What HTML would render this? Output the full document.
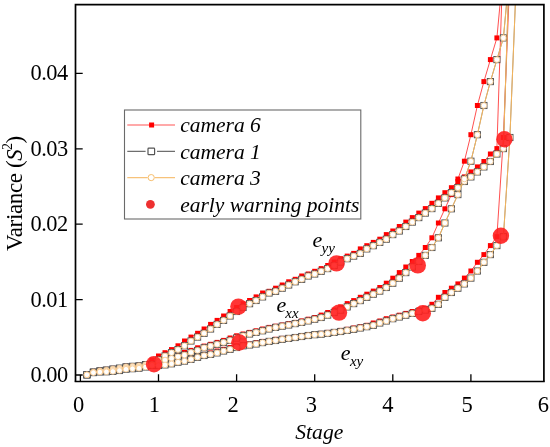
<!DOCTYPE html>
<html><head><meta charset="utf-8"><title>Variance vs Stage</title>
<style>html,body{margin:0;padding:0;background:#fff;}
#wrap{position:relative;width:550px;height:447px;overflow:hidden;}
svg{display:block;position:absolute;left:0;top:0;}
.yl{position:absolute;transform-origin:0 0;transform:rotate(-90deg);font-family:"Liberation Serif","Times New Roman",serif;white-space:nowrap;line-height:1;color:#000;letter-spacing:-0.35px;}
.yl .sup{font-size:0.6em;position:relative;top:-0.7em;margin-left:-0.5px;}
</style>
</head><body><div id="wrap">
<svg width="550" height="447" viewBox="0 0 550 447">
<defs><clipPath id="cp"><rect x="75.5" y="4.7" width="468.4" height="376.6"/></clipPath></defs>
<rect width="550" height="447" fill="#fff"/>
<g clip-path="url(#cp)">
<polyline points="86.9,374.2 93.4,371.4 99.9,370.2 106.4,369.4 112.9,368.4 119.5,367.5 126.0,366.2 132.5,365.7 139.0,365.2 145.5,364.0 152.0,360.0 158.5,356.0 165.0,352.7 171.5,349.6 178.0,345.8 184.5,341.0 191.0,337.1 197.6,333.3 204.1,329.0 210.6,324.4 217.1,320.4 223.6,316.0 230.1,311.5 236.6,307.5 243.1,303.7 249.6,300.5 256.1,296.9 262.6,293.0 269.1,291.3 275.6,288.2 282.2,285.0 288.7,281.8 295.2,279.3 301.7,276.0 308.2,274.0 314.7,271.3 321.2,268.6 327.7,265.5 334.2,262.0 340.7,258.7 347.2,256.1 353.8,253.4 360.3,248.9 366.8,245.7 373.3,242.4 379.8,239.2 386.3,234.6 392.8,231.0 399.3,226.5 405.8,222.1 412.3,217.6 418.8,213.1 425.3,208.6 431.9,203.3 438.4,197.9 444.9,192.7 451.4,187.7 457.9,181.5 464.4,176.9 470.9,171.9 477.4,166.9 483.9,161.5 490.4,154.0 496.9,148.6 503.4,-50.4 509.9,-120.0" fill="none" stroke="#ff5050" stroke-width="1"/>
<polyline points="86.9,374.2 93.4,371.7 99.9,370.8 106.4,370.3 112.9,369.6 119.5,368.7 126.0,367.4 132.5,366.9 139.0,366.4 145.5,365.2 152.0,362.0 158.5,360.0 165.0,358.4 171.5,356.7 178.0,355.1 184.5,352.4 191.0,350.4 197.6,347.8 204.1,346.1 210.6,344.3 217.1,342.4 223.6,340.4 230.1,338.0 236.6,335.8 243.1,334.0 249.6,332.4 256.1,330.8 262.6,329.0 269.1,327.4 275.6,326.2 282.2,325.0 288.7,323.6 295.2,322.4 301.7,320.9 308.2,319.2 314.7,317.5 321.2,315.1 327.7,312.5 334.2,310.1 340.7,306.9 347.2,303.6 353.8,300.6 360.3,297.3 366.8,294.2 373.3,291.1 379.8,287.5 386.3,283.2 392.8,278.2 399.3,272.6 405.8,267.0 412.3,261.5 418.8,255.4 425.3,247.5 431.9,237.8 438.4,223.0 444.9,208.8 451.4,194.6 457.9,179.0 464.4,161.2 470.9,134.7 477.4,105.5 483.9,81.6 490.4,59.6 496.9,37.9 503.4,-31.8 509.9,-100.0" fill="none" stroke="#ff5050" stroke-width="1"/>
<polyline points="86.9,374.2 93.4,372.0 99.9,371.4 106.4,371.2 112.9,370.8 119.5,369.9 126.0,368.6 132.5,368.1 139.0,367.6 145.5,366.4 152.0,365.5 158.5,364.9 165.0,363.8 171.5,362.2 178.0,361.1 184.5,359.4 191.0,357.3 197.6,355.5 204.1,354.4 210.6,352.9 217.1,351.0 223.6,349.3 230.1,347.5 236.6,345.8 243.1,345.0 249.6,344.0 256.1,342.6 262.6,341.4 269.1,340.5 275.6,339.3 282.2,338.4 288.7,337.5 295.2,336.5 301.7,335.5 308.2,334.7 314.7,334.2 321.2,333.4 327.7,332.4 334.2,331.5 340.7,330.4 347.2,329.3 353.8,328.0 360.3,326.7 366.8,325.3 373.3,323.0 379.8,321.0 386.3,318.7 392.8,317.0 399.3,315.2 405.8,313.4 412.3,311.5 418.8,310.0 425.3,308.3 431.9,304.3 438.4,297.3 444.9,292.5 451.4,288.2 457.9,283.9 464.4,278.1 470.9,271.0 477.4,262.3 483.9,254.6 490.4,245.6 496.9,236.7 503.4,137.5 509.9,-24.6 516.5,-100.0" fill="none" stroke="#ff5050" stroke-width="1"/>
<rect x="84.4" y="371.7" width="5" height="5" fill="#ff0000"/>
<rect x="90.9" y="368.9" width="5" height="5" fill="#ff0000"/>
<rect x="97.4" y="367.7" width="5" height="5" fill="#ff0000"/>
<rect x="103.9" y="366.9" width="5" height="5" fill="#ff0000"/>
<rect x="110.4" y="365.9" width="5" height="5" fill="#ff0000"/>
<rect x="117.0" y="365.0" width="5" height="5" fill="#ff0000"/>
<rect x="123.5" y="363.7" width="5" height="5" fill="#ff0000"/>
<rect x="130.0" y="363.2" width="5" height="5" fill="#ff0000"/>
<rect x="136.5" y="362.7" width="5" height="5" fill="#ff0000"/>
<rect x="143.0" y="361.5" width="5" height="5" fill="#ff0000"/>
<rect x="149.5" y="357.5" width="5" height="5" fill="#ff0000"/>
<rect x="156.0" y="353.5" width="5" height="5" fill="#ff0000"/>
<rect x="162.5" y="350.2" width="5" height="5" fill="#ff0000"/>
<rect x="169.0" y="347.1" width="5" height="5" fill="#ff0000"/>
<rect x="175.5" y="343.3" width="5" height="5" fill="#ff0000"/>
<rect x="182.0" y="338.5" width="5" height="5" fill="#ff0000"/>
<rect x="188.5" y="334.6" width="5" height="5" fill="#ff0000"/>
<rect x="195.1" y="330.8" width="5" height="5" fill="#ff0000"/>
<rect x="201.6" y="326.5" width="5" height="5" fill="#ff0000"/>
<rect x="208.1" y="321.9" width="5" height="5" fill="#ff0000"/>
<rect x="214.6" y="317.9" width="5" height="5" fill="#ff0000"/>
<rect x="221.1" y="313.5" width="5" height="5" fill="#ff0000"/>
<rect x="227.6" y="309.0" width="5" height="5" fill="#ff0000"/>
<rect x="234.1" y="305.0" width="5" height="5" fill="#ff0000"/>
<rect x="240.6" y="301.2" width="5" height="5" fill="#ff0000"/>
<rect x="247.1" y="298.0" width="5" height="5" fill="#ff0000"/>
<rect x="253.6" y="294.4" width="5" height="5" fill="#ff0000"/>
<rect x="260.1" y="290.5" width="5" height="5" fill="#ff0000"/>
<rect x="266.6" y="288.8" width="5" height="5" fill="#ff0000"/>
<rect x="273.1" y="285.7" width="5" height="5" fill="#ff0000"/>
<rect x="279.7" y="282.5" width="5" height="5" fill="#ff0000"/>
<rect x="286.2" y="279.3" width="5" height="5" fill="#ff0000"/>
<rect x="292.7" y="276.8" width="5" height="5" fill="#ff0000"/>
<rect x="299.2" y="273.5" width="5" height="5" fill="#ff0000"/>
<rect x="305.7" y="271.5" width="5" height="5" fill="#ff0000"/>
<rect x="312.2" y="268.8" width="5" height="5" fill="#ff0000"/>
<rect x="318.7" y="266.1" width="5" height="5" fill="#ff0000"/>
<rect x="325.2" y="263.0" width="5" height="5" fill="#ff0000"/>
<rect x="331.7" y="259.5" width="5" height="5" fill="#ff0000"/>
<rect x="338.2" y="256.2" width="5" height="5" fill="#ff0000"/>
<rect x="344.7" y="253.6" width="5" height="5" fill="#ff0000"/>
<rect x="351.2" y="250.9" width="5" height="5" fill="#ff0000"/>
<rect x="357.8" y="246.4" width="5" height="5" fill="#ff0000"/>
<rect x="364.3" y="243.2" width="5" height="5" fill="#ff0000"/>
<rect x="370.8" y="239.9" width="5" height="5" fill="#ff0000"/>
<rect x="377.3" y="236.7" width="5" height="5" fill="#ff0000"/>
<rect x="383.8" y="232.1" width="5" height="5" fill="#ff0000"/>
<rect x="390.3" y="228.5" width="5" height="5" fill="#ff0000"/>
<rect x="396.8" y="224.0" width="5" height="5" fill="#ff0000"/>
<rect x="403.3" y="219.6" width="5" height="5" fill="#ff0000"/>
<rect x="409.8" y="215.1" width="5" height="5" fill="#ff0000"/>
<rect x="416.3" y="210.6" width="5" height="5" fill="#ff0000"/>
<rect x="422.8" y="206.1" width="5" height="5" fill="#ff0000"/>
<rect x="429.4" y="200.8" width="5" height="5" fill="#ff0000"/>
<rect x="435.9" y="195.4" width="5" height="5" fill="#ff0000"/>
<rect x="442.4" y="190.2" width="5" height="5" fill="#ff0000"/>
<rect x="448.9" y="185.2" width="5" height="5" fill="#ff0000"/>
<rect x="455.4" y="179.0" width="5" height="5" fill="#ff0000"/>
<rect x="461.9" y="174.4" width="5" height="5" fill="#ff0000"/>
<rect x="468.4" y="169.4" width="5" height="5" fill="#ff0000"/>
<rect x="474.9" y="164.4" width="5" height="5" fill="#ff0000"/>
<rect x="481.4" y="159.0" width="5" height="5" fill="#ff0000"/>
<rect x="487.9" y="151.5" width="5" height="5" fill="#ff0000"/>
<rect x="494.4" y="146.1" width="5" height="5" fill="#ff0000"/>
<rect x="84.4" y="371.7" width="5" height="5" fill="#ff0000"/>
<rect x="90.9" y="369.2" width="5" height="5" fill="#ff0000"/>
<rect x="97.4" y="368.3" width="5" height="5" fill="#ff0000"/>
<rect x="103.9" y="367.8" width="5" height="5" fill="#ff0000"/>
<rect x="110.4" y="367.1" width="5" height="5" fill="#ff0000"/>
<rect x="117.0" y="366.2" width="5" height="5" fill="#ff0000"/>
<rect x="123.5" y="364.9" width="5" height="5" fill="#ff0000"/>
<rect x="130.0" y="364.4" width="5" height="5" fill="#ff0000"/>
<rect x="136.5" y="363.9" width="5" height="5" fill="#ff0000"/>
<rect x="143.0" y="362.7" width="5" height="5" fill="#ff0000"/>
<rect x="149.5" y="359.5" width="5" height="5" fill="#ff0000"/>
<rect x="156.0" y="357.5" width="5" height="5" fill="#ff0000"/>
<rect x="162.5" y="355.9" width="5" height="5" fill="#ff0000"/>
<rect x="169.0" y="354.2" width="5" height="5" fill="#ff0000"/>
<rect x="175.5" y="352.6" width="5" height="5" fill="#ff0000"/>
<rect x="182.0" y="349.9" width="5" height="5" fill="#ff0000"/>
<rect x="188.5" y="347.9" width="5" height="5" fill="#ff0000"/>
<rect x="195.1" y="345.3" width="5" height="5" fill="#ff0000"/>
<rect x="201.6" y="343.6" width="5" height="5" fill="#ff0000"/>
<rect x="208.1" y="341.8" width="5" height="5" fill="#ff0000"/>
<rect x="214.6" y="339.9" width="5" height="5" fill="#ff0000"/>
<rect x="221.1" y="337.9" width="5" height="5" fill="#ff0000"/>
<rect x="227.6" y="335.5" width="5" height="5" fill="#ff0000"/>
<rect x="234.1" y="333.3" width="5" height="5" fill="#ff0000"/>
<rect x="240.6" y="331.5" width="5" height="5" fill="#ff0000"/>
<rect x="247.1" y="329.9" width="5" height="5" fill="#ff0000"/>
<rect x="253.6" y="328.3" width="5" height="5" fill="#ff0000"/>
<rect x="260.1" y="326.5" width="5" height="5" fill="#ff0000"/>
<rect x="266.6" y="324.9" width="5" height="5" fill="#ff0000"/>
<rect x="273.1" y="323.7" width="5" height="5" fill="#ff0000"/>
<rect x="279.7" y="322.5" width="5" height="5" fill="#ff0000"/>
<rect x="286.2" y="321.1" width="5" height="5" fill="#ff0000"/>
<rect x="292.7" y="319.9" width="5" height="5" fill="#ff0000"/>
<rect x="299.2" y="318.4" width="5" height="5" fill="#ff0000"/>
<rect x="305.7" y="316.7" width="5" height="5" fill="#ff0000"/>
<rect x="312.2" y="315.0" width="5" height="5" fill="#ff0000"/>
<rect x="318.7" y="312.6" width="5" height="5" fill="#ff0000"/>
<rect x="325.2" y="310.0" width="5" height="5" fill="#ff0000"/>
<rect x="331.7" y="307.6" width="5" height="5" fill="#ff0000"/>
<rect x="338.2" y="304.4" width="5" height="5" fill="#ff0000"/>
<rect x="344.7" y="301.1" width="5" height="5" fill="#ff0000"/>
<rect x="351.2" y="298.1" width="5" height="5" fill="#ff0000"/>
<rect x="357.8" y="294.8" width="5" height="5" fill="#ff0000"/>
<rect x="364.3" y="291.7" width="5" height="5" fill="#ff0000"/>
<rect x="370.8" y="288.6" width="5" height="5" fill="#ff0000"/>
<rect x="377.3" y="285.0" width="5" height="5" fill="#ff0000"/>
<rect x="383.8" y="280.7" width="5" height="5" fill="#ff0000"/>
<rect x="390.3" y="275.7" width="5" height="5" fill="#ff0000"/>
<rect x="396.8" y="270.1" width="5" height="5" fill="#ff0000"/>
<rect x="403.3" y="264.5" width="5" height="5" fill="#ff0000"/>
<rect x="409.8" y="259.0" width="5" height="5" fill="#ff0000"/>
<rect x="416.3" y="252.9" width="5" height="5" fill="#ff0000"/>
<rect x="422.8" y="245.0" width="5" height="5" fill="#ff0000"/>
<rect x="429.4" y="235.3" width="5" height="5" fill="#ff0000"/>
<rect x="435.9" y="220.5" width="5" height="5" fill="#ff0000"/>
<rect x="442.4" y="206.3" width="5" height="5" fill="#ff0000"/>
<rect x="448.9" y="192.1" width="5" height="5" fill="#ff0000"/>
<rect x="455.4" y="176.5" width="5" height="5" fill="#ff0000"/>
<rect x="461.9" y="158.7" width="5" height="5" fill="#ff0000"/>
<rect x="468.4" y="132.2" width="5" height="5" fill="#ff0000"/>
<rect x="474.9" y="103.0" width="5" height="5" fill="#ff0000"/>
<rect x="481.4" y="79.1" width="5" height="5" fill="#ff0000"/>
<rect x="487.9" y="57.1" width="5" height="5" fill="#ff0000"/>
<rect x="494.4" y="35.4" width="5" height="5" fill="#ff0000"/>
<rect x="84.4" y="371.7" width="5" height="5" fill="#ff0000"/>
<rect x="90.9" y="369.5" width="5" height="5" fill="#ff0000"/>
<rect x="97.4" y="368.9" width="5" height="5" fill="#ff0000"/>
<rect x="103.9" y="368.7" width="5" height="5" fill="#ff0000"/>
<rect x="110.4" y="368.3" width="5" height="5" fill="#ff0000"/>
<rect x="117.0" y="367.4" width="5" height="5" fill="#ff0000"/>
<rect x="123.5" y="366.1" width="5" height="5" fill="#ff0000"/>
<rect x="130.0" y="365.6" width="5" height="5" fill="#ff0000"/>
<rect x="136.5" y="365.1" width="5" height="5" fill="#ff0000"/>
<rect x="143.0" y="363.9" width="5" height="5" fill="#ff0000"/>
<rect x="149.5" y="363.0" width="5" height="5" fill="#ff0000"/>
<rect x="156.0" y="362.4" width="5" height="5" fill="#ff0000"/>
<rect x="162.5" y="361.3" width="5" height="5" fill="#ff0000"/>
<rect x="169.0" y="359.7" width="5" height="5" fill="#ff0000"/>
<rect x="175.5" y="358.6" width="5" height="5" fill="#ff0000"/>
<rect x="182.0" y="356.9" width="5" height="5" fill="#ff0000"/>
<rect x="188.5" y="354.8" width="5" height="5" fill="#ff0000"/>
<rect x="195.1" y="353.0" width="5" height="5" fill="#ff0000"/>
<rect x="201.6" y="351.9" width="5" height="5" fill="#ff0000"/>
<rect x="208.1" y="350.4" width="5" height="5" fill="#ff0000"/>
<rect x="214.6" y="348.5" width="5" height="5" fill="#ff0000"/>
<rect x="221.1" y="346.8" width="5" height="5" fill="#ff0000"/>
<rect x="227.6" y="345.0" width="5" height="5" fill="#ff0000"/>
<rect x="234.1" y="343.3" width="5" height="5" fill="#ff0000"/>
<rect x="240.6" y="342.5" width="5" height="5" fill="#ff0000"/>
<rect x="247.1" y="341.5" width="5" height="5" fill="#ff0000"/>
<rect x="253.6" y="340.1" width="5" height="5" fill="#ff0000"/>
<rect x="260.1" y="338.9" width="5" height="5" fill="#ff0000"/>
<rect x="266.6" y="338.0" width="5" height="5" fill="#ff0000"/>
<rect x="273.1" y="336.8" width="5" height="5" fill="#ff0000"/>
<rect x="279.7" y="335.9" width="5" height="5" fill="#ff0000"/>
<rect x="286.2" y="335.0" width="5" height="5" fill="#ff0000"/>
<rect x="292.7" y="334.0" width="5" height="5" fill="#ff0000"/>
<rect x="299.2" y="333.0" width="5" height="5" fill="#ff0000"/>
<rect x="305.7" y="332.2" width="5" height="5" fill="#ff0000"/>
<rect x="312.2" y="331.7" width="5" height="5" fill="#ff0000"/>
<rect x="318.7" y="330.9" width="5" height="5" fill="#ff0000"/>
<rect x="325.2" y="329.9" width="5" height="5" fill="#ff0000"/>
<rect x="331.7" y="329.0" width="5" height="5" fill="#ff0000"/>
<rect x="338.2" y="327.9" width="5" height="5" fill="#ff0000"/>
<rect x="344.7" y="326.8" width="5" height="5" fill="#ff0000"/>
<rect x="351.2" y="325.5" width="5" height="5" fill="#ff0000"/>
<rect x="357.8" y="324.2" width="5" height="5" fill="#ff0000"/>
<rect x="364.3" y="322.8" width="5" height="5" fill="#ff0000"/>
<rect x="370.8" y="320.5" width="5" height="5" fill="#ff0000"/>
<rect x="377.3" y="318.5" width="5" height="5" fill="#ff0000"/>
<rect x="383.8" y="316.2" width="5" height="5" fill="#ff0000"/>
<rect x="390.3" y="314.5" width="5" height="5" fill="#ff0000"/>
<rect x="396.8" y="312.7" width="5" height="5" fill="#ff0000"/>
<rect x="403.3" y="310.9" width="5" height="5" fill="#ff0000"/>
<rect x="409.8" y="309.0" width="5" height="5" fill="#ff0000"/>
<rect x="416.3" y="307.5" width="5" height="5" fill="#ff0000"/>
<rect x="422.8" y="305.8" width="5" height="5" fill="#ff0000"/>
<rect x="429.4" y="301.8" width="5" height="5" fill="#ff0000"/>
<rect x="435.9" y="294.8" width="5" height="5" fill="#ff0000"/>
<rect x="442.4" y="290.0" width="5" height="5" fill="#ff0000"/>
<rect x="448.9" y="285.7" width="5" height="5" fill="#ff0000"/>
<rect x="455.4" y="281.4" width="5" height="5" fill="#ff0000"/>
<rect x="461.9" y="275.6" width="5" height="5" fill="#ff0000"/>
<rect x="468.4" y="268.5" width="5" height="5" fill="#ff0000"/>
<rect x="474.9" y="259.8" width="5" height="5" fill="#ff0000"/>
<rect x="481.4" y="252.1" width="5" height="5" fill="#ff0000"/>
<rect x="487.9" y="243.1" width="5" height="5" fill="#ff0000"/>
<rect x="494.4" y="234.2" width="5" height="5" fill="#ff0000"/>
<rect x="500.9" y="135.0" width="5" height="5" fill="#ff0000"/>
<polyline points="86.9,374.8 93.4,372.0 99.9,370.8 106.4,370.0 112.9,369.0 119.5,368.1 126.0,366.8 132.5,366.3 139.0,365.8 145.5,364.6 152.0,364.5 158.5,360.0 165.0,356.0 171.5,352.7 178.0,349.6 184.5,345.8 191.0,341.0 197.6,337.1 204.1,333.3 210.6,329.0 217.1,324.4 223.6,320.4 230.1,316.0 236.6,311.5 243.1,307.5 249.6,303.7 256.1,300.5 262.6,296.9 269.1,293.0 275.6,291.3 282.2,288.2 288.7,285.0 295.2,281.8 301.7,279.3 308.2,276.0 314.7,274.0 321.2,271.3 327.7,268.6 334.2,265.5 340.7,262.0 347.2,258.7 353.8,256.1 360.3,253.4 366.8,248.9 373.3,245.7 379.8,242.4 386.3,239.2 392.8,234.6 399.3,231.0 405.8,226.5 412.3,222.1 418.8,217.6 425.3,213.1 431.9,208.6 438.4,203.3 444.9,197.9 451.4,192.7 457.9,187.7 464.4,181.5 470.9,176.9 477.4,171.9 483.9,166.9 490.4,161.5 496.9,154.0 503.4,148.6 509.9,-50.4 516.5,-120.0" fill="none" stroke="#7a7a7a" stroke-width="0.8"/>
<polyline points="86.9,374.8 93.4,372.3 99.9,371.4 106.4,370.9 112.9,370.2 119.5,369.3 126.0,368.0 132.5,367.5 139.0,367.0 145.5,365.8 152.0,365.0 158.5,362.0 165.0,360.0 171.5,358.4 178.0,356.7 184.5,355.1 191.0,352.4 197.6,350.4 204.1,347.8 210.6,346.1 217.1,344.3 223.6,342.4 230.1,340.4 236.6,338.0 243.1,335.8 249.6,334.0 256.1,332.4 262.6,330.8 269.1,329.0 275.6,327.4 282.2,326.2 288.7,325.0 295.2,323.6 301.7,322.4 308.2,320.9 314.7,319.2 321.2,317.5 327.7,315.1 334.2,312.5 340.7,310.1 347.2,306.9 353.8,303.6 360.3,300.6 366.8,297.3 373.3,294.2 379.8,291.1 386.3,287.5 392.8,283.2 399.3,278.2 405.8,272.6 412.3,267.0 418.8,261.5 425.3,255.4 431.9,247.5 438.4,237.8 444.9,223.0 451.4,208.8 457.9,194.6 464.4,179.0 470.9,161.2 477.4,134.7 483.9,105.5 490.4,81.6 496.9,59.6 503.4,37.9 509.9,-31.8 516.5,-100.0" fill="none" stroke="#7a7a7a" stroke-width="0.8"/>
<polyline points="86.9,374.8 93.4,372.6 99.9,372.0 106.4,371.8 112.9,371.4 119.5,370.5 126.0,369.2 132.5,368.7 139.0,368.2 145.5,367.0 152.0,365.3 158.5,365.5 165.0,364.9 171.5,363.8 178.0,362.2 184.5,361.1 191.0,359.4 197.6,357.3 204.1,355.5 210.6,354.4 217.1,352.9 223.6,351.0 230.1,349.3 236.6,347.5 243.1,345.8 249.6,345.0 256.1,344.0 262.6,342.6 269.1,341.4 275.6,340.5 282.2,339.3 288.7,338.4 295.2,337.5 301.7,336.5 308.2,335.5 314.7,334.7 321.2,334.2 327.7,333.4 334.2,332.4 340.7,331.5 347.2,330.4 353.8,329.3 360.3,328.0 366.8,326.7 373.3,325.3 379.8,323.0 386.3,321.0 392.8,318.7 399.3,317.0 405.8,315.2 412.3,313.4 418.8,311.5 425.3,310.0 431.9,308.3 438.4,304.3 444.9,297.3 451.4,292.5 457.9,288.2 464.4,283.9 470.9,278.1 477.4,271.0 483.9,262.3 490.4,254.6 496.9,245.6 503.4,236.7 509.9,137.5 516.5,-24.6 523.0,-100.0" fill="none" stroke="#7a7a7a" stroke-width="0.8"/>
<rect x="83.8" y="371.7" width="6.2" height="6.2" fill="#fff" stroke="#4d4d4d" stroke-width="0.9"/>
<rect x="90.3" y="368.9" width="6.2" height="6.2" fill="#fff" stroke="#4d4d4d" stroke-width="0.9"/>
<rect x="96.8" y="367.7" width="6.2" height="6.2" fill="#fff" stroke="#4d4d4d" stroke-width="0.9"/>
<rect x="103.3" y="366.9" width="6.2" height="6.2" fill="#fff" stroke="#4d4d4d" stroke-width="0.9"/>
<rect x="109.8" y="365.9" width="6.2" height="6.2" fill="#fff" stroke="#4d4d4d" stroke-width="0.9"/>
<rect x="116.4" y="365.0" width="6.2" height="6.2" fill="#fff" stroke="#4d4d4d" stroke-width="0.9"/>
<rect x="122.9" y="363.7" width="6.2" height="6.2" fill="#fff" stroke="#4d4d4d" stroke-width="0.9"/>
<rect x="129.4" y="363.2" width="6.2" height="6.2" fill="#fff" stroke="#4d4d4d" stroke-width="0.9"/>
<rect x="135.9" y="362.7" width="6.2" height="6.2" fill="#fff" stroke="#4d4d4d" stroke-width="0.9"/>
<rect x="142.4" y="361.5" width="6.2" height="6.2" fill="#fff" stroke="#4d4d4d" stroke-width="0.9"/>
<rect x="148.9" y="361.4" width="6.2" height="6.2" fill="#fff" stroke="#4d4d4d" stroke-width="0.9"/>
<rect x="155.4" y="356.9" width="6.2" height="6.2" fill="#fff" stroke="#4d4d4d" stroke-width="0.9"/>
<rect x="161.9" y="352.9" width="6.2" height="6.2" fill="#fff" stroke="#4d4d4d" stroke-width="0.9"/>
<rect x="168.4" y="349.6" width="6.2" height="6.2" fill="#fff" stroke="#4d4d4d" stroke-width="0.9"/>
<rect x="174.9" y="346.5" width="6.2" height="6.2" fill="#fff" stroke="#4d4d4d" stroke-width="0.9"/>
<rect x="181.4" y="342.7" width="6.2" height="6.2" fill="#fff" stroke="#4d4d4d" stroke-width="0.9"/>
<rect x="187.9" y="337.9" width="6.2" height="6.2" fill="#fff" stroke="#4d4d4d" stroke-width="0.9"/>
<rect x="194.5" y="334.0" width="6.2" height="6.2" fill="#fff" stroke="#4d4d4d" stroke-width="0.9"/>
<rect x="201.0" y="330.2" width="6.2" height="6.2" fill="#fff" stroke="#4d4d4d" stroke-width="0.9"/>
<rect x="207.5" y="325.9" width="6.2" height="6.2" fill="#fff" stroke="#4d4d4d" stroke-width="0.9"/>
<rect x="214.0" y="321.3" width="6.2" height="6.2" fill="#fff" stroke="#4d4d4d" stroke-width="0.9"/>
<rect x="220.5" y="317.3" width="6.2" height="6.2" fill="#fff" stroke="#4d4d4d" stroke-width="0.9"/>
<rect x="227.0" y="312.9" width="6.2" height="6.2" fill="#fff" stroke="#4d4d4d" stroke-width="0.9"/>
<rect x="233.5" y="308.4" width="6.2" height="6.2" fill="#fff" stroke="#4d4d4d" stroke-width="0.9"/>
<rect x="240.0" y="304.4" width="6.2" height="6.2" fill="#fff" stroke="#4d4d4d" stroke-width="0.9"/>
<rect x="246.5" y="300.6" width="6.2" height="6.2" fill="#fff" stroke="#4d4d4d" stroke-width="0.9"/>
<rect x="253.0" y="297.4" width="6.2" height="6.2" fill="#fff" stroke="#4d4d4d" stroke-width="0.9"/>
<rect x="259.5" y="293.8" width="6.2" height="6.2" fill="#fff" stroke="#4d4d4d" stroke-width="0.9"/>
<rect x="266.0" y="289.9" width="6.2" height="6.2" fill="#fff" stroke="#4d4d4d" stroke-width="0.9"/>
<rect x="272.5" y="288.2" width="6.2" height="6.2" fill="#fff" stroke="#4d4d4d" stroke-width="0.9"/>
<rect x="279.1" y="285.1" width="6.2" height="6.2" fill="#fff" stroke="#4d4d4d" stroke-width="0.9"/>
<rect x="285.6" y="281.9" width="6.2" height="6.2" fill="#fff" stroke="#4d4d4d" stroke-width="0.9"/>
<rect x="292.1" y="278.7" width="6.2" height="6.2" fill="#fff" stroke="#4d4d4d" stroke-width="0.9"/>
<rect x="298.6" y="276.2" width="6.2" height="6.2" fill="#fff" stroke="#4d4d4d" stroke-width="0.9"/>
<rect x="305.1" y="272.9" width="6.2" height="6.2" fill="#fff" stroke="#4d4d4d" stroke-width="0.9"/>
<rect x="311.6" y="270.9" width="6.2" height="6.2" fill="#fff" stroke="#4d4d4d" stroke-width="0.9"/>
<rect x="318.1" y="268.2" width="6.2" height="6.2" fill="#fff" stroke="#4d4d4d" stroke-width="0.9"/>
<rect x="324.6" y="265.5" width="6.2" height="6.2" fill="#fff" stroke="#4d4d4d" stroke-width="0.9"/>
<rect x="331.1" y="262.4" width="6.2" height="6.2" fill="#fff" stroke="#4d4d4d" stroke-width="0.9"/>
<rect x="337.6" y="258.9" width="6.2" height="6.2" fill="#fff" stroke="#4d4d4d" stroke-width="0.9"/>
<rect x="344.1" y="255.6" width="6.2" height="6.2" fill="#fff" stroke="#4d4d4d" stroke-width="0.9"/>
<rect x="350.6" y="253.0" width="6.2" height="6.2" fill="#fff" stroke="#4d4d4d" stroke-width="0.9"/>
<rect x="357.2" y="250.3" width="6.2" height="6.2" fill="#fff" stroke="#4d4d4d" stroke-width="0.9"/>
<rect x="363.7" y="245.8" width="6.2" height="6.2" fill="#fff" stroke="#4d4d4d" stroke-width="0.9"/>
<rect x="370.2" y="242.6" width="6.2" height="6.2" fill="#fff" stroke="#4d4d4d" stroke-width="0.9"/>
<rect x="376.7" y="239.3" width="6.2" height="6.2" fill="#fff" stroke="#4d4d4d" stroke-width="0.9"/>
<rect x="383.2" y="236.1" width="6.2" height="6.2" fill="#fff" stroke="#4d4d4d" stroke-width="0.9"/>
<rect x="389.7" y="231.5" width="6.2" height="6.2" fill="#fff" stroke="#4d4d4d" stroke-width="0.9"/>
<rect x="396.2" y="227.9" width="6.2" height="6.2" fill="#fff" stroke="#4d4d4d" stroke-width="0.9"/>
<rect x="402.7" y="223.4" width="6.2" height="6.2" fill="#fff" stroke="#4d4d4d" stroke-width="0.9"/>
<rect x="409.2" y="219.0" width="6.2" height="6.2" fill="#fff" stroke="#4d4d4d" stroke-width="0.9"/>
<rect x="415.7" y="214.5" width="6.2" height="6.2" fill="#fff" stroke="#4d4d4d" stroke-width="0.9"/>
<rect x="422.2" y="210.0" width="6.2" height="6.2" fill="#fff" stroke="#4d4d4d" stroke-width="0.9"/>
<rect x="428.8" y="205.5" width="6.2" height="6.2" fill="#fff" stroke="#4d4d4d" stroke-width="0.9"/>
<rect x="435.3" y="200.2" width="6.2" height="6.2" fill="#fff" stroke="#4d4d4d" stroke-width="0.9"/>
<rect x="441.8" y="194.8" width="6.2" height="6.2" fill="#fff" stroke="#4d4d4d" stroke-width="0.9"/>
<rect x="448.3" y="189.6" width="6.2" height="6.2" fill="#fff" stroke="#4d4d4d" stroke-width="0.9"/>
<rect x="454.8" y="184.6" width="6.2" height="6.2" fill="#fff" stroke="#4d4d4d" stroke-width="0.9"/>
<rect x="461.3" y="178.4" width="6.2" height="6.2" fill="#fff" stroke="#4d4d4d" stroke-width="0.9"/>
<rect x="467.8" y="173.8" width="6.2" height="6.2" fill="#fff" stroke="#4d4d4d" stroke-width="0.9"/>
<rect x="474.3" y="168.8" width="6.2" height="6.2" fill="#fff" stroke="#4d4d4d" stroke-width="0.9"/>
<rect x="480.8" y="163.8" width="6.2" height="6.2" fill="#fff" stroke="#4d4d4d" stroke-width="0.9"/>
<rect x="487.3" y="158.4" width="6.2" height="6.2" fill="#fff" stroke="#4d4d4d" stroke-width="0.9"/>
<rect x="493.8" y="150.9" width="6.2" height="6.2" fill="#fff" stroke="#4d4d4d" stroke-width="0.9"/>
<rect x="500.3" y="145.5" width="6.2" height="6.2" fill="#fff" stroke="#4d4d4d" stroke-width="0.9"/>
<rect x="83.8" y="371.7" width="6.2" height="6.2" fill="#fff" stroke="#4d4d4d" stroke-width="0.9"/>
<rect x="90.3" y="369.2" width="6.2" height="6.2" fill="#fff" stroke="#4d4d4d" stroke-width="0.9"/>
<rect x="96.8" y="368.3" width="6.2" height="6.2" fill="#fff" stroke="#4d4d4d" stroke-width="0.9"/>
<rect x="103.3" y="367.8" width="6.2" height="6.2" fill="#fff" stroke="#4d4d4d" stroke-width="0.9"/>
<rect x="109.8" y="367.1" width="6.2" height="6.2" fill="#fff" stroke="#4d4d4d" stroke-width="0.9"/>
<rect x="116.4" y="366.2" width="6.2" height="6.2" fill="#fff" stroke="#4d4d4d" stroke-width="0.9"/>
<rect x="122.9" y="364.9" width="6.2" height="6.2" fill="#fff" stroke="#4d4d4d" stroke-width="0.9"/>
<rect x="129.4" y="364.4" width="6.2" height="6.2" fill="#fff" stroke="#4d4d4d" stroke-width="0.9"/>
<rect x="135.9" y="363.9" width="6.2" height="6.2" fill="#fff" stroke="#4d4d4d" stroke-width="0.9"/>
<rect x="142.4" y="362.7" width="6.2" height="6.2" fill="#fff" stroke="#4d4d4d" stroke-width="0.9"/>
<rect x="148.9" y="361.9" width="6.2" height="6.2" fill="#fff" stroke="#4d4d4d" stroke-width="0.9"/>
<rect x="155.4" y="358.9" width="6.2" height="6.2" fill="#fff" stroke="#4d4d4d" stroke-width="0.9"/>
<rect x="161.9" y="356.9" width="6.2" height="6.2" fill="#fff" stroke="#4d4d4d" stroke-width="0.9"/>
<rect x="168.4" y="355.3" width="6.2" height="6.2" fill="#fff" stroke="#4d4d4d" stroke-width="0.9"/>
<rect x="174.9" y="353.6" width="6.2" height="6.2" fill="#fff" stroke="#4d4d4d" stroke-width="0.9"/>
<rect x="181.4" y="352.0" width="6.2" height="6.2" fill="#fff" stroke="#4d4d4d" stroke-width="0.9"/>
<rect x="187.9" y="349.3" width="6.2" height="6.2" fill="#fff" stroke="#4d4d4d" stroke-width="0.9"/>
<rect x="194.5" y="347.3" width="6.2" height="6.2" fill="#fff" stroke="#4d4d4d" stroke-width="0.9"/>
<rect x="201.0" y="344.7" width="6.2" height="6.2" fill="#fff" stroke="#4d4d4d" stroke-width="0.9"/>
<rect x="207.5" y="343.0" width="6.2" height="6.2" fill="#fff" stroke="#4d4d4d" stroke-width="0.9"/>
<rect x="214.0" y="341.2" width="6.2" height="6.2" fill="#fff" stroke="#4d4d4d" stroke-width="0.9"/>
<rect x="220.5" y="339.3" width="6.2" height="6.2" fill="#fff" stroke="#4d4d4d" stroke-width="0.9"/>
<rect x="227.0" y="337.3" width="6.2" height="6.2" fill="#fff" stroke="#4d4d4d" stroke-width="0.9"/>
<rect x="233.5" y="334.9" width="6.2" height="6.2" fill="#fff" stroke="#4d4d4d" stroke-width="0.9"/>
<rect x="240.0" y="332.7" width="6.2" height="6.2" fill="#fff" stroke="#4d4d4d" stroke-width="0.9"/>
<rect x="246.5" y="330.9" width="6.2" height="6.2" fill="#fff" stroke="#4d4d4d" stroke-width="0.9"/>
<rect x="253.0" y="329.3" width="6.2" height="6.2" fill="#fff" stroke="#4d4d4d" stroke-width="0.9"/>
<rect x="259.5" y="327.7" width="6.2" height="6.2" fill="#fff" stroke="#4d4d4d" stroke-width="0.9"/>
<rect x="266.0" y="325.9" width="6.2" height="6.2" fill="#fff" stroke="#4d4d4d" stroke-width="0.9"/>
<rect x="272.5" y="324.3" width="6.2" height="6.2" fill="#fff" stroke="#4d4d4d" stroke-width="0.9"/>
<rect x="279.1" y="323.1" width="6.2" height="6.2" fill="#fff" stroke="#4d4d4d" stroke-width="0.9"/>
<rect x="285.6" y="321.9" width="6.2" height="6.2" fill="#fff" stroke="#4d4d4d" stroke-width="0.9"/>
<rect x="292.1" y="320.5" width="6.2" height="6.2" fill="#fff" stroke="#4d4d4d" stroke-width="0.9"/>
<rect x="298.6" y="319.3" width="6.2" height="6.2" fill="#fff" stroke="#4d4d4d" stroke-width="0.9"/>
<rect x="305.1" y="317.8" width="6.2" height="6.2" fill="#fff" stroke="#4d4d4d" stroke-width="0.9"/>
<rect x="311.6" y="316.1" width="6.2" height="6.2" fill="#fff" stroke="#4d4d4d" stroke-width="0.9"/>
<rect x="318.1" y="314.4" width="6.2" height="6.2" fill="#fff" stroke="#4d4d4d" stroke-width="0.9"/>
<rect x="324.6" y="312.0" width="6.2" height="6.2" fill="#fff" stroke="#4d4d4d" stroke-width="0.9"/>
<rect x="331.1" y="309.4" width="6.2" height="6.2" fill="#fff" stroke="#4d4d4d" stroke-width="0.9"/>
<rect x="337.6" y="307.0" width="6.2" height="6.2" fill="#fff" stroke="#4d4d4d" stroke-width="0.9"/>
<rect x="344.1" y="303.8" width="6.2" height="6.2" fill="#fff" stroke="#4d4d4d" stroke-width="0.9"/>
<rect x="350.6" y="300.5" width="6.2" height="6.2" fill="#fff" stroke="#4d4d4d" stroke-width="0.9"/>
<rect x="357.2" y="297.5" width="6.2" height="6.2" fill="#fff" stroke="#4d4d4d" stroke-width="0.9"/>
<rect x="363.7" y="294.2" width="6.2" height="6.2" fill="#fff" stroke="#4d4d4d" stroke-width="0.9"/>
<rect x="370.2" y="291.1" width="6.2" height="6.2" fill="#fff" stroke="#4d4d4d" stroke-width="0.9"/>
<rect x="376.7" y="288.0" width="6.2" height="6.2" fill="#fff" stroke="#4d4d4d" stroke-width="0.9"/>
<rect x="383.2" y="284.4" width="6.2" height="6.2" fill="#fff" stroke="#4d4d4d" stroke-width="0.9"/>
<rect x="389.7" y="280.1" width="6.2" height="6.2" fill="#fff" stroke="#4d4d4d" stroke-width="0.9"/>
<rect x="396.2" y="275.1" width="6.2" height="6.2" fill="#fff" stroke="#4d4d4d" stroke-width="0.9"/>
<rect x="402.7" y="269.5" width="6.2" height="6.2" fill="#fff" stroke="#4d4d4d" stroke-width="0.9"/>
<rect x="409.2" y="263.9" width="6.2" height="6.2" fill="#fff" stroke="#4d4d4d" stroke-width="0.9"/>
<rect x="415.7" y="258.4" width="6.2" height="6.2" fill="#fff" stroke="#4d4d4d" stroke-width="0.9"/>
<rect x="422.2" y="252.3" width="6.2" height="6.2" fill="#fff" stroke="#4d4d4d" stroke-width="0.9"/>
<rect x="428.8" y="244.4" width="6.2" height="6.2" fill="#fff" stroke="#4d4d4d" stroke-width="0.9"/>
<rect x="435.3" y="234.7" width="6.2" height="6.2" fill="#fff" stroke="#4d4d4d" stroke-width="0.9"/>
<rect x="441.8" y="219.9" width="6.2" height="6.2" fill="#fff" stroke="#4d4d4d" stroke-width="0.9"/>
<rect x="448.3" y="205.7" width="6.2" height="6.2" fill="#fff" stroke="#4d4d4d" stroke-width="0.9"/>
<rect x="454.8" y="191.5" width="6.2" height="6.2" fill="#fff" stroke="#4d4d4d" stroke-width="0.9"/>
<rect x="461.3" y="175.9" width="6.2" height="6.2" fill="#fff" stroke="#4d4d4d" stroke-width="0.9"/>
<rect x="467.8" y="158.1" width="6.2" height="6.2" fill="#fff" stroke="#4d4d4d" stroke-width="0.9"/>
<rect x="474.3" y="131.6" width="6.2" height="6.2" fill="#fff" stroke="#4d4d4d" stroke-width="0.9"/>
<rect x="480.8" y="102.4" width="6.2" height="6.2" fill="#fff" stroke="#4d4d4d" stroke-width="0.9"/>
<rect x="487.3" y="78.5" width="6.2" height="6.2" fill="#fff" stroke="#4d4d4d" stroke-width="0.9"/>
<rect x="493.8" y="56.5" width="6.2" height="6.2" fill="#fff" stroke="#4d4d4d" stroke-width="0.9"/>
<rect x="500.3" y="34.8" width="6.2" height="6.2" fill="#fff" stroke="#4d4d4d" stroke-width="0.9"/>
<rect x="83.8" y="371.7" width="6.2" height="6.2" fill="#fff" stroke="#4d4d4d" stroke-width="0.9"/>
<rect x="90.3" y="369.5" width="6.2" height="6.2" fill="#fff" stroke="#4d4d4d" stroke-width="0.9"/>
<rect x="96.8" y="368.9" width="6.2" height="6.2" fill="#fff" stroke="#4d4d4d" stroke-width="0.9"/>
<rect x="103.3" y="368.7" width="6.2" height="6.2" fill="#fff" stroke="#4d4d4d" stroke-width="0.9"/>
<rect x="109.8" y="368.3" width="6.2" height="6.2" fill="#fff" stroke="#4d4d4d" stroke-width="0.9"/>
<rect x="116.4" y="367.4" width="6.2" height="6.2" fill="#fff" stroke="#4d4d4d" stroke-width="0.9"/>
<rect x="122.9" y="366.1" width="6.2" height="6.2" fill="#fff" stroke="#4d4d4d" stroke-width="0.9"/>
<rect x="129.4" y="365.6" width="6.2" height="6.2" fill="#fff" stroke="#4d4d4d" stroke-width="0.9"/>
<rect x="135.9" y="365.1" width="6.2" height="6.2" fill="#fff" stroke="#4d4d4d" stroke-width="0.9"/>
<rect x="142.4" y="363.9" width="6.2" height="6.2" fill="#fff" stroke="#4d4d4d" stroke-width="0.9"/>
<rect x="148.9" y="362.2" width="6.2" height="6.2" fill="#fff" stroke="#4d4d4d" stroke-width="0.9"/>
<rect x="155.4" y="362.4" width="6.2" height="6.2" fill="#fff" stroke="#4d4d4d" stroke-width="0.9"/>
<rect x="161.9" y="361.8" width="6.2" height="6.2" fill="#fff" stroke="#4d4d4d" stroke-width="0.9"/>
<rect x="168.4" y="360.7" width="6.2" height="6.2" fill="#fff" stroke="#4d4d4d" stroke-width="0.9"/>
<rect x="174.9" y="359.1" width="6.2" height="6.2" fill="#fff" stroke="#4d4d4d" stroke-width="0.9"/>
<rect x="181.4" y="358.0" width="6.2" height="6.2" fill="#fff" stroke="#4d4d4d" stroke-width="0.9"/>
<rect x="187.9" y="356.3" width="6.2" height="6.2" fill="#fff" stroke="#4d4d4d" stroke-width="0.9"/>
<rect x="194.5" y="354.2" width="6.2" height="6.2" fill="#fff" stroke="#4d4d4d" stroke-width="0.9"/>
<rect x="201.0" y="352.4" width="6.2" height="6.2" fill="#fff" stroke="#4d4d4d" stroke-width="0.9"/>
<rect x="207.5" y="351.3" width="6.2" height="6.2" fill="#fff" stroke="#4d4d4d" stroke-width="0.9"/>
<rect x="214.0" y="349.8" width="6.2" height="6.2" fill="#fff" stroke="#4d4d4d" stroke-width="0.9"/>
<rect x="220.5" y="347.9" width="6.2" height="6.2" fill="#fff" stroke="#4d4d4d" stroke-width="0.9"/>
<rect x="227.0" y="346.2" width="6.2" height="6.2" fill="#fff" stroke="#4d4d4d" stroke-width="0.9"/>
<rect x="233.5" y="344.4" width="6.2" height="6.2" fill="#fff" stroke="#4d4d4d" stroke-width="0.9"/>
<rect x="240.0" y="342.7" width="6.2" height="6.2" fill="#fff" stroke="#4d4d4d" stroke-width="0.9"/>
<rect x="246.5" y="341.9" width="6.2" height="6.2" fill="#fff" stroke="#4d4d4d" stroke-width="0.9"/>
<rect x="253.0" y="340.9" width="6.2" height="6.2" fill="#fff" stroke="#4d4d4d" stroke-width="0.9"/>
<rect x="259.5" y="339.5" width="6.2" height="6.2" fill="#fff" stroke="#4d4d4d" stroke-width="0.9"/>
<rect x="266.0" y="338.3" width="6.2" height="6.2" fill="#fff" stroke="#4d4d4d" stroke-width="0.9"/>
<rect x="272.5" y="337.4" width="6.2" height="6.2" fill="#fff" stroke="#4d4d4d" stroke-width="0.9"/>
<rect x="279.1" y="336.2" width="6.2" height="6.2" fill="#fff" stroke="#4d4d4d" stroke-width="0.9"/>
<rect x="285.6" y="335.3" width="6.2" height="6.2" fill="#fff" stroke="#4d4d4d" stroke-width="0.9"/>
<rect x="292.1" y="334.4" width="6.2" height="6.2" fill="#fff" stroke="#4d4d4d" stroke-width="0.9"/>
<rect x="298.6" y="333.4" width="6.2" height="6.2" fill="#fff" stroke="#4d4d4d" stroke-width="0.9"/>
<rect x="305.1" y="332.4" width="6.2" height="6.2" fill="#fff" stroke="#4d4d4d" stroke-width="0.9"/>
<rect x="311.6" y="331.6" width="6.2" height="6.2" fill="#fff" stroke="#4d4d4d" stroke-width="0.9"/>
<rect x="318.1" y="331.1" width="6.2" height="6.2" fill="#fff" stroke="#4d4d4d" stroke-width="0.9"/>
<rect x="324.6" y="330.3" width="6.2" height="6.2" fill="#fff" stroke="#4d4d4d" stroke-width="0.9"/>
<rect x="331.1" y="329.3" width="6.2" height="6.2" fill="#fff" stroke="#4d4d4d" stroke-width="0.9"/>
<rect x="337.6" y="328.4" width="6.2" height="6.2" fill="#fff" stroke="#4d4d4d" stroke-width="0.9"/>
<rect x="344.1" y="327.3" width="6.2" height="6.2" fill="#fff" stroke="#4d4d4d" stroke-width="0.9"/>
<rect x="350.6" y="326.2" width="6.2" height="6.2" fill="#fff" stroke="#4d4d4d" stroke-width="0.9"/>
<rect x="357.2" y="324.9" width="6.2" height="6.2" fill="#fff" stroke="#4d4d4d" stroke-width="0.9"/>
<rect x="363.7" y="323.6" width="6.2" height="6.2" fill="#fff" stroke="#4d4d4d" stroke-width="0.9"/>
<rect x="370.2" y="322.2" width="6.2" height="6.2" fill="#fff" stroke="#4d4d4d" stroke-width="0.9"/>
<rect x="376.7" y="319.9" width="6.2" height="6.2" fill="#fff" stroke="#4d4d4d" stroke-width="0.9"/>
<rect x="383.2" y="317.9" width="6.2" height="6.2" fill="#fff" stroke="#4d4d4d" stroke-width="0.9"/>
<rect x="389.7" y="315.6" width="6.2" height="6.2" fill="#fff" stroke="#4d4d4d" stroke-width="0.9"/>
<rect x="396.2" y="313.9" width="6.2" height="6.2" fill="#fff" stroke="#4d4d4d" stroke-width="0.9"/>
<rect x="402.7" y="312.1" width="6.2" height="6.2" fill="#fff" stroke="#4d4d4d" stroke-width="0.9"/>
<rect x="409.2" y="310.3" width="6.2" height="6.2" fill="#fff" stroke="#4d4d4d" stroke-width="0.9"/>
<rect x="415.7" y="308.4" width="6.2" height="6.2" fill="#fff" stroke="#4d4d4d" stroke-width="0.9"/>
<rect x="422.2" y="306.9" width="6.2" height="6.2" fill="#fff" stroke="#4d4d4d" stroke-width="0.9"/>
<rect x="428.8" y="305.2" width="6.2" height="6.2" fill="#fff" stroke="#4d4d4d" stroke-width="0.9"/>
<rect x="435.3" y="301.2" width="6.2" height="6.2" fill="#fff" stroke="#4d4d4d" stroke-width="0.9"/>
<rect x="441.8" y="294.2" width="6.2" height="6.2" fill="#fff" stroke="#4d4d4d" stroke-width="0.9"/>
<rect x="448.3" y="289.4" width="6.2" height="6.2" fill="#fff" stroke="#4d4d4d" stroke-width="0.9"/>
<rect x="454.8" y="285.1" width="6.2" height="6.2" fill="#fff" stroke="#4d4d4d" stroke-width="0.9"/>
<rect x="461.3" y="280.8" width="6.2" height="6.2" fill="#fff" stroke="#4d4d4d" stroke-width="0.9"/>
<rect x="467.8" y="275.0" width="6.2" height="6.2" fill="#fff" stroke="#4d4d4d" stroke-width="0.9"/>
<rect x="474.3" y="267.9" width="6.2" height="6.2" fill="#fff" stroke="#4d4d4d" stroke-width="0.9"/>
<rect x="480.8" y="259.2" width="6.2" height="6.2" fill="#fff" stroke="#4d4d4d" stroke-width="0.9"/>
<rect x="487.3" y="251.5" width="6.2" height="6.2" fill="#fff" stroke="#4d4d4d" stroke-width="0.9"/>
<rect x="493.8" y="242.5" width="6.2" height="6.2" fill="#fff" stroke="#4d4d4d" stroke-width="0.9"/>
<rect x="500.3" y="233.6" width="6.2" height="6.2" fill="#fff" stroke="#4d4d4d" stroke-width="0.9"/>
<rect x="506.8" y="134.4" width="6.2" height="6.2" fill="#fff" stroke="#4d4d4d" stroke-width="0.9"/>
<polyline points="86.9,374.8 93.4,372.0 99.9,370.8 106.4,370.0 112.9,369.0 119.5,368.1 126.0,366.8 132.5,366.3 139.0,365.8 145.5,364.6 152.0,364.5 158.5,360.0 165.0,356.0 171.5,352.7 178.0,349.6 184.5,345.8 191.0,341.0 197.6,337.1 204.1,333.3 210.6,329.0 217.1,324.4 223.6,320.4 230.1,316.0 236.6,311.5 243.1,307.5 249.6,303.7 256.1,300.5 262.6,296.9 269.1,293.0 275.6,291.3 282.2,288.2 288.7,285.0 295.2,281.8 301.7,279.3 308.2,276.0 314.7,274.0 321.2,271.3 327.7,268.6 334.2,265.5 340.7,262.0 347.2,258.7 353.8,256.1 360.3,253.4 366.8,248.9 373.3,245.7 379.8,242.4 386.3,239.2 392.8,234.6 399.3,231.0 405.8,226.5 412.3,222.1 418.8,217.6 425.3,213.1 431.9,208.6 438.4,203.3 444.9,197.9 451.4,192.7 457.9,187.7 464.4,181.5 470.9,176.9 477.4,171.9 483.9,166.9 490.4,161.5 496.9,154.0 503.4,148.6 509.9,-50.4 516.5,-120.0" fill="none" stroke="#f4b45a" stroke-width="1"/>
<polyline points="86.9,374.8 93.4,372.3 99.9,371.4 106.4,370.9 112.9,370.2 119.5,369.3 126.0,368.0 132.5,367.5 139.0,367.0 145.5,365.8 152.0,365.0 158.5,362.0 165.0,360.0 171.5,358.4 178.0,356.7 184.5,355.1 191.0,352.4 197.6,350.4 204.1,347.8 210.6,346.1 217.1,344.3 223.6,342.4 230.1,340.4 236.6,338.0 243.1,335.8 249.6,334.0 256.1,332.4 262.6,330.8 269.1,329.0 275.6,327.4 282.2,326.2 288.7,325.0 295.2,323.6 301.7,322.4 308.2,320.9 314.7,319.2 321.2,317.5 327.7,315.1 334.2,312.5 340.7,310.1 347.2,306.9 353.8,303.6 360.3,300.6 366.8,297.3 373.3,294.2 379.8,291.1 386.3,287.5 392.8,283.2 399.3,278.2 405.8,272.6 412.3,267.0 418.8,261.5 425.3,255.4 431.9,247.5 438.4,237.8 444.9,223.0 451.4,208.8 457.9,194.6 464.4,179.0 470.9,161.2 477.4,134.7 483.9,105.5 490.4,81.6 496.9,59.6 503.4,37.9 509.9,-31.8 516.5,-100.0" fill="none" stroke="#f4b45a" stroke-width="1"/>
<polyline points="86.9,374.8 93.4,372.6 99.9,372.0 106.4,371.8 112.9,371.4 119.5,370.5 126.0,369.2 132.5,368.7 139.0,368.2 145.5,367.0 152.0,365.3 158.5,365.5 165.0,364.9 171.5,363.8 178.0,362.2 184.5,361.1 191.0,359.4 197.6,357.3 204.1,355.5 210.6,354.4 217.1,352.9 223.6,351.0 230.1,349.3 236.6,347.5 243.1,345.8 249.6,345.0 256.1,344.0 262.6,342.6 269.1,341.4 275.6,340.5 282.2,339.3 288.7,338.4 295.2,337.5 301.7,336.5 308.2,335.5 314.7,334.7 321.2,334.2 327.7,333.4 334.2,332.4 340.7,331.5 347.2,330.4 353.8,329.3 360.3,328.0 366.8,326.7 373.3,325.3 379.8,323.0 386.3,321.0 392.8,318.7 399.3,317.0 405.8,315.2 412.3,313.4 418.8,311.5 425.3,310.0 431.9,308.3 438.4,304.3 444.9,297.3 451.4,292.5 457.9,288.2 464.4,283.9 470.9,278.1 477.4,271.0 483.9,262.3 490.4,254.6 496.9,245.6 503.4,236.7 509.9,137.5 516.5,-24.6 523.0,-100.0" fill="none" stroke="#f4b45a" stroke-width="1"/>
<circle cx="86.9" cy="374.8" r="2.8" fill="#fff" stroke="#f5bd78" stroke-width="0.7"/>
<circle cx="93.4" cy="372.0" r="2.8" fill="#fff" stroke="#f5bd78" stroke-width="0.7"/>
<circle cx="99.9" cy="370.8" r="2.8" fill="#fff" stroke="#f5bd78" stroke-width="0.7"/>
<circle cx="106.4" cy="370.0" r="2.8" fill="#fff" stroke="#f5bd78" stroke-width="0.7"/>
<circle cx="112.9" cy="369.0" r="2.8" fill="#fff" stroke="#f5bd78" stroke-width="0.7"/>
<circle cx="119.5" cy="368.1" r="2.8" fill="#fff" stroke="#f5bd78" stroke-width="0.7"/>
<circle cx="126.0" cy="366.8" r="2.8" fill="#fff" stroke="#f5bd78" stroke-width="0.7"/>
<circle cx="132.5" cy="366.3" r="2.8" fill="#fff" stroke="#f5bd78" stroke-width="0.7"/>
<circle cx="139.0" cy="365.8" r="2.8" fill="#fff" stroke="#f5bd78" stroke-width="0.7"/>
<circle cx="145.5" cy="364.6" r="2.8" fill="#fff" stroke="#f5bd78" stroke-width="0.7"/>
<circle cx="152.0" cy="364.5" r="2.8" fill="#fff" stroke="#f5bd78" stroke-width="0.7"/>
<circle cx="158.5" cy="360.0" r="2.8" fill="#fff" stroke="#f5bd78" stroke-width="0.7"/>
<circle cx="165.0" cy="356.0" r="2.8" fill="#fff" stroke="#f5bd78" stroke-width="0.7"/>
<circle cx="171.5" cy="352.7" r="2.8" fill="#fff" stroke="#f5bd78" stroke-width="0.7"/>
<circle cx="178.0" cy="349.6" r="2.8" fill="#fff" stroke="#f5bd78" stroke-width="0.7"/>
<circle cx="184.5" cy="345.8" r="2.8" fill="#fff" stroke="#f5bd78" stroke-width="0.7"/>
<circle cx="191.0" cy="341.0" r="2.8" fill="#fff" stroke="#f5bd78" stroke-width="0.7"/>
<circle cx="197.6" cy="337.1" r="2.8" fill="#fff" stroke="#f5bd78" stroke-width="0.7"/>
<circle cx="204.1" cy="333.3" r="2.8" fill="#fff" stroke="#f5bd78" stroke-width="0.7"/>
<circle cx="210.6" cy="329.0" r="2.8" fill="#fff" stroke="#f5bd78" stroke-width="0.7"/>
<circle cx="217.1" cy="324.4" r="2.8" fill="#fff" stroke="#f5bd78" stroke-width="0.7"/>
<circle cx="223.6" cy="320.4" r="2.8" fill="#fff" stroke="#f5bd78" stroke-width="0.7"/>
<circle cx="230.1" cy="316.0" r="2.8" fill="#fff" stroke="#f5bd78" stroke-width="0.7"/>
<circle cx="236.6" cy="311.5" r="2.8" fill="#fff" stroke="#f5bd78" stroke-width="0.7"/>
<circle cx="243.1" cy="307.5" r="2.8" fill="#fff" stroke="#f5bd78" stroke-width="0.7"/>
<circle cx="249.6" cy="303.7" r="2.8" fill="#fff" stroke="#f5bd78" stroke-width="0.7"/>
<circle cx="256.1" cy="300.5" r="2.8" fill="#fff" stroke="#f5bd78" stroke-width="0.7"/>
<circle cx="262.6" cy="296.9" r="2.8" fill="#fff" stroke="#f5bd78" stroke-width="0.7"/>
<circle cx="269.1" cy="293.0" r="2.8" fill="#fff" stroke="#f5bd78" stroke-width="0.7"/>
<circle cx="275.6" cy="291.3" r="2.8" fill="#fff" stroke="#f5bd78" stroke-width="0.7"/>
<circle cx="282.2" cy="288.2" r="2.8" fill="#fff" stroke="#f5bd78" stroke-width="0.7"/>
<circle cx="288.7" cy="285.0" r="2.8" fill="#fff" stroke="#f5bd78" stroke-width="0.7"/>
<circle cx="295.2" cy="281.8" r="2.8" fill="#fff" stroke="#f5bd78" stroke-width="0.7"/>
<circle cx="301.7" cy="279.3" r="2.8" fill="#fff" stroke="#f5bd78" stroke-width="0.7"/>
<circle cx="308.2" cy="276.0" r="2.8" fill="#fff" stroke="#f5bd78" stroke-width="0.7"/>
<circle cx="314.7" cy="274.0" r="2.8" fill="#fff" stroke="#f5bd78" stroke-width="0.7"/>
<circle cx="321.2" cy="271.3" r="2.8" fill="#fff" stroke="#f5bd78" stroke-width="0.7"/>
<circle cx="327.7" cy="268.6" r="2.8" fill="#fff" stroke="#f5bd78" stroke-width="0.7"/>
<circle cx="334.2" cy="265.5" r="2.8" fill="#fff" stroke="#f5bd78" stroke-width="0.7"/>
<circle cx="340.7" cy="262.0" r="2.8" fill="#fff" stroke="#f5bd78" stroke-width="0.7"/>
<circle cx="347.2" cy="258.7" r="2.8" fill="#fff" stroke="#f5bd78" stroke-width="0.7"/>
<circle cx="353.8" cy="256.1" r="2.8" fill="#fff" stroke="#f5bd78" stroke-width="0.7"/>
<circle cx="360.3" cy="253.4" r="2.8" fill="#fff" stroke="#f5bd78" stroke-width="0.7"/>
<circle cx="366.8" cy="248.9" r="2.8" fill="#fff" stroke="#f5bd78" stroke-width="0.7"/>
<circle cx="373.3" cy="245.7" r="2.8" fill="#fff" stroke="#f5bd78" stroke-width="0.7"/>
<circle cx="379.8" cy="242.4" r="2.8" fill="#fff" stroke="#f5bd78" stroke-width="0.7"/>
<circle cx="386.3" cy="239.2" r="2.8" fill="#fff" stroke="#f5bd78" stroke-width="0.7"/>
<circle cx="392.8" cy="234.6" r="2.8" fill="#fff" stroke="#f5bd78" stroke-width="0.7"/>
<circle cx="399.3" cy="231.0" r="2.8" fill="#fff" stroke="#f5bd78" stroke-width="0.7"/>
<circle cx="405.8" cy="226.5" r="2.8" fill="#fff" stroke="#f5bd78" stroke-width="0.7"/>
<circle cx="412.3" cy="222.1" r="2.8" fill="#fff" stroke="#f5bd78" stroke-width="0.7"/>
<circle cx="418.8" cy="217.6" r="2.8" fill="#fff" stroke="#f5bd78" stroke-width="0.7"/>
<circle cx="425.3" cy="213.1" r="2.8" fill="#fff" stroke="#f5bd78" stroke-width="0.7"/>
<circle cx="431.9" cy="208.6" r="2.8" fill="#fff" stroke="#f5bd78" stroke-width="0.7"/>
<circle cx="438.4" cy="203.3" r="2.8" fill="#fff" stroke="#f5bd78" stroke-width="0.7"/>
<circle cx="444.9" cy="197.9" r="2.8" fill="#fff" stroke="#f5bd78" stroke-width="0.7"/>
<circle cx="451.4" cy="192.7" r="2.8" fill="#fff" stroke="#f5bd78" stroke-width="0.7"/>
<circle cx="457.9" cy="187.7" r="2.8" fill="#fff" stroke="#f5bd78" stroke-width="0.7"/>
<circle cx="464.4" cy="181.5" r="2.8" fill="#fff" stroke="#f5bd78" stroke-width="0.7"/>
<circle cx="470.9" cy="176.9" r="2.8" fill="#fff" stroke="#f5bd78" stroke-width="0.7"/>
<circle cx="477.4" cy="171.9" r="2.8" fill="#fff" stroke="#f5bd78" stroke-width="0.7"/>
<circle cx="483.9" cy="166.9" r="2.8" fill="#fff" stroke="#f5bd78" stroke-width="0.7"/>
<circle cx="490.4" cy="161.5" r="2.8" fill="#fff" stroke="#f5bd78" stroke-width="0.7"/>
<circle cx="496.9" cy="154.0" r="2.8" fill="#fff" stroke="#f5bd78" stroke-width="0.7"/>
<circle cx="503.4" cy="148.6" r="2.8" fill="#fff" stroke="#f5bd78" stroke-width="0.7"/>
<circle cx="86.9" cy="374.8" r="2.8" fill="#fff" stroke="#f5bd78" stroke-width="0.7"/>
<circle cx="93.4" cy="372.3" r="2.8" fill="#fff" stroke="#f5bd78" stroke-width="0.7"/>
<circle cx="99.9" cy="371.4" r="2.8" fill="#fff" stroke="#f5bd78" stroke-width="0.7"/>
<circle cx="106.4" cy="370.9" r="2.8" fill="#fff" stroke="#f5bd78" stroke-width="0.7"/>
<circle cx="112.9" cy="370.2" r="2.8" fill="#fff" stroke="#f5bd78" stroke-width="0.7"/>
<circle cx="119.5" cy="369.3" r="2.8" fill="#fff" stroke="#f5bd78" stroke-width="0.7"/>
<circle cx="126.0" cy="368.0" r="2.8" fill="#fff" stroke="#f5bd78" stroke-width="0.7"/>
<circle cx="132.5" cy="367.5" r="2.8" fill="#fff" stroke="#f5bd78" stroke-width="0.7"/>
<circle cx="139.0" cy="367.0" r="2.8" fill="#fff" stroke="#f5bd78" stroke-width="0.7"/>
<circle cx="145.5" cy="365.8" r="2.8" fill="#fff" stroke="#f5bd78" stroke-width="0.7"/>
<circle cx="152.0" cy="365.0" r="2.8" fill="#fff" stroke="#f5bd78" stroke-width="0.7"/>
<circle cx="158.5" cy="362.0" r="2.8" fill="#fff" stroke="#f5bd78" stroke-width="0.7"/>
<circle cx="165.0" cy="360.0" r="2.8" fill="#fff" stroke="#f5bd78" stroke-width="0.7"/>
<circle cx="171.5" cy="358.4" r="2.8" fill="#fff" stroke="#f5bd78" stroke-width="0.7"/>
<circle cx="178.0" cy="356.7" r="2.8" fill="#fff" stroke="#f5bd78" stroke-width="0.7"/>
<circle cx="184.5" cy="355.1" r="2.8" fill="#fff" stroke="#f5bd78" stroke-width="0.7"/>
<circle cx="191.0" cy="352.4" r="2.8" fill="#fff" stroke="#f5bd78" stroke-width="0.7"/>
<circle cx="197.6" cy="350.4" r="2.8" fill="#fff" stroke="#f5bd78" stroke-width="0.7"/>
<circle cx="204.1" cy="347.8" r="2.8" fill="#fff" stroke="#f5bd78" stroke-width="0.7"/>
<circle cx="210.6" cy="346.1" r="2.8" fill="#fff" stroke="#f5bd78" stroke-width="0.7"/>
<circle cx="217.1" cy="344.3" r="2.8" fill="#fff" stroke="#f5bd78" stroke-width="0.7"/>
<circle cx="223.6" cy="342.4" r="2.8" fill="#fff" stroke="#f5bd78" stroke-width="0.7"/>
<circle cx="230.1" cy="340.4" r="2.8" fill="#fff" stroke="#f5bd78" stroke-width="0.7"/>
<circle cx="236.6" cy="338.0" r="2.8" fill="#fff" stroke="#f5bd78" stroke-width="0.7"/>
<circle cx="243.1" cy="335.8" r="2.8" fill="#fff" stroke="#f5bd78" stroke-width="0.7"/>
<circle cx="249.6" cy="334.0" r="2.8" fill="#fff" stroke="#f5bd78" stroke-width="0.7"/>
<circle cx="256.1" cy="332.4" r="2.8" fill="#fff" stroke="#f5bd78" stroke-width="0.7"/>
<circle cx="262.6" cy="330.8" r="2.8" fill="#fff" stroke="#f5bd78" stroke-width="0.7"/>
<circle cx="269.1" cy="329.0" r="2.8" fill="#fff" stroke="#f5bd78" stroke-width="0.7"/>
<circle cx="275.6" cy="327.4" r="2.8" fill="#fff" stroke="#f5bd78" stroke-width="0.7"/>
<circle cx="282.2" cy="326.2" r="2.8" fill="#fff" stroke="#f5bd78" stroke-width="0.7"/>
<circle cx="288.7" cy="325.0" r="2.8" fill="#fff" stroke="#f5bd78" stroke-width="0.7"/>
<circle cx="295.2" cy="323.6" r="2.8" fill="#fff" stroke="#f5bd78" stroke-width="0.7"/>
<circle cx="301.7" cy="322.4" r="2.8" fill="#fff" stroke="#f5bd78" stroke-width="0.7"/>
<circle cx="308.2" cy="320.9" r="2.8" fill="#fff" stroke="#f5bd78" stroke-width="0.7"/>
<circle cx="314.7" cy="319.2" r="2.8" fill="#fff" stroke="#f5bd78" stroke-width="0.7"/>
<circle cx="321.2" cy="317.5" r="2.8" fill="#fff" stroke="#f5bd78" stroke-width="0.7"/>
<circle cx="327.7" cy="315.1" r="2.8" fill="#fff" stroke="#f5bd78" stroke-width="0.7"/>
<circle cx="334.2" cy="312.5" r="2.8" fill="#fff" stroke="#f5bd78" stroke-width="0.7"/>
<circle cx="340.7" cy="310.1" r="2.8" fill="#fff" stroke="#f5bd78" stroke-width="0.7"/>
<circle cx="347.2" cy="306.9" r="2.8" fill="#fff" stroke="#f5bd78" stroke-width="0.7"/>
<circle cx="353.8" cy="303.6" r="2.8" fill="#fff" stroke="#f5bd78" stroke-width="0.7"/>
<circle cx="360.3" cy="300.6" r="2.8" fill="#fff" stroke="#f5bd78" stroke-width="0.7"/>
<circle cx="366.8" cy="297.3" r="2.8" fill="#fff" stroke="#f5bd78" stroke-width="0.7"/>
<circle cx="373.3" cy="294.2" r="2.8" fill="#fff" stroke="#f5bd78" stroke-width="0.7"/>
<circle cx="379.8" cy="291.1" r="2.8" fill="#fff" stroke="#f5bd78" stroke-width="0.7"/>
<circle cx="386.3" cy="287.5" r="2.8" fill="#fff" stroke="#f5bd78" stroke-width="0.7"/>
<circle cx="392.8" cy="283.2" r="2.8" fill="#fff" stroke="#f5bd78" stroke-width="0.7"/>
<circle cx="399.3" cy="278.2" r="2.8" fill="#fff" stroke="#f5bd78" stroke-width="0.7"/>
<circle cx="405.8" cy="272.6" r="2.8" fill="#fff" stroke="#f5bd78" stroke-width="0.7"/>
<circle cx="412.3" cy="267.0" r="2.8" fill="#fff" stroke="#f5bd78" stroke-width="0.7"/>
<circle cx="418.8" cy="261.5" r="2.8" fill="#fff" stroke="#f5bd78" stroke-width="0.7"/>
<circle cx="425.3" cy="255.4" r="2.8" fill="#fff" stroke="#f5bd78" stroke-width="0.7"/>
<circle cx="431.9" cy="247.5" r="2.8" fill="#fff" stroke="#f5bd78" stroke-width="0.7"/>
<circle cx="438.4" cy="237.8" r="2.8" fill="#fff" stroke="#f5bd78" stroke-width="0.7"/>
<circle cx="444.9" cy="223.0" r="2.8" fill="#fff" stroke="#f5bd78" stroke-width="0.7"/>
<circle cx="451.4" cy="208.8" r="2.8" fill="#fff" stroke="#f5bd78" stroke-width="0.7"/>
<circle cx="457.9" cy="194.6" r="2.8" fill="#fff" stroke="#f5bd78" stroke-width="0.7"/>
<circle cx="464.4" cy="179.0" r="2.8" fill="#fff" stroke="#f5bd78" stroke-width="0.7"/>
<circle cx="470.9" cy="161.2" r="2.8" fill="#fff" stroke="#f5bd78" stroke-width="0.7"/>
<circle cx="477.4" cy="134.7" r="2.8" fill="#fff" stroke="#f5bd78" stroke-width="0.7"/>
<circle cx="483.9" cy="105.5" r="2.8" fill="#fff" stroke="#f5bd78" stroke-width="0.7"/>
<circle cx="490.4" cy="81.6" r="2.8" fill="#fff" stroke="#f5bd78" stroke-width="0.7"/>
<circle cx="496.9" cy="59.6" r="2.8" fill="#fff" stroke="#f5bd78" stroke-width="0.7"/>
<circle cx="503.4" cy="37.9" r="2.8" fill="#fff" stroke="#f5bd78" stroke-width="0.7"/>
<circle cx="86.9" cy="374.8" r="2.8" fill="#fff" stroke="#f5bd78" stroke-width="0.7"/>
<circle cx="93.4" cy="372.6" r="2.8" fill="#fff" stroke="#f5bd78" stroke-width="0.7"/>
<circle cx="99.9" cy="372.0" r="2.8" fill="#fff" stroke="#f5bd78" stroke-width="0.7"/>
<circle cx="106.4" cy="371.8" r="2.8" fill="#fff" stroke="#f5bd78" stroke-width="0.7"/>
<circle cx="112.9" cy="371.4" r="2.8" fill="#fff" stroke="#f5bd78" stroke-width="0.7"/>
<circle cx="119.5" cy="370.5" r="2.8" fill="#fff" stroke="#f5bd78" stroke-width="0.7"/>
<circle cx="126.0" cy="369.2" r="2.8" fill="#fff" stroke="#f5bd78" stroke-width="0.7"/>
<circle cx="132.5" cy="368.7" r="2.8" fill="#fff" stroke="#f5bd78" stroke-width="0.7"/>
<circle cx="139.0" cy="368.2" r="2.8" fill="#fff" stroke="#f5bd78" stroke-width="0.7"/>
<circle cx="145.5" cy="367.0" r="2.8" fill="#fff" stroke="#f5bd78" stroke-width="0.7"/>
<circle cx="152.0" cy="365.3" r="2.8" fill="#fff" stroke="#f5bd78" stroke-width="0.7"/>
<circle cx="158.5" cy="365.5" r="2.8" fill="#fff" stroke="#f5bd78" stroke-width="0.7"/>
<circle cx="165.0" cy="364.9" r="2.8" fill="#fff" stroke="#f5bd78" stroke-width="0.7"/>
<circle cx="171.5" cy="363.8" r="2.8" fill="#fff" stroke="#f5bd78" stroke-width="0.7"/>
<circle cx="178.0" cy="362.2" r="2.8" fill="#fff" stroke="#f5bd78" stroke-width="0.7"/>
<circle cx="184.5" cy="361.1" r="2.8" fill="#fff" stroke="#f5bd78" stroke-width="0.7"/>
<circle cx="191.0" cy="359.4" r="2.8" fill="#fff" stroke="#f5bd78" stroke-width="0.7"/>
<circle cx="197.6" cy="357.3" r="2.8" fill="#fff" stroke="#f5bd78" stroke-width="0.7"/>
<circle cx="204.1" cy="355.5" r="2.8" fill="#fff" stroke="#f5bd78" stroke-width="0.7"/>
<circle cx="210.6" cy="354.4" r="2.8" fill="#fff" stroke="#f5bd78" stroke-width="0.7"/>
<circle cx="217.1" cy="352.9" r="2.8" fill="#fff" stroke="#f5bd78" stroke-width="0.7"/>
<circle cx="223.6" cy="351.0" r="2.8" fill="#fff" stroke="#f5bd78" stroke-width="0.7"/>
<circle cx="230.1" cy="349.3" r="2.8" fill="#fff" stroke="#f5bd78" stroke-width="0.7"/>
<circle cx="236.6" cy="347.5" r="2.8" fill="#fff" stroke="#f5bd78" stroke-width="0.7"/>
<circle cx="243.1" cy="345.8" r="2.8" fill="#fff" stroke="#f5bd78" stroke-width="0.7"/>
<circle cx="249.6" cy="345.0" r="2.8" fill="#fff" stroke="#f5bd78" stroke-width="0.7"/>
<circle cx="256.1" cy="344.0" r="2.8" fill="#fff" stroke="#f5bd78" stroke-width="0.7"/>
<circle cx="262.6" cy="342.6" r="2.8" fill="#fff" stroke="#f5bd78" stroke-width="0.7"/>
<circle cx="269.1" cy="341.4" r="2.8" fill="#fff" stroke="#f5bd78" stroke-width="0.7"/>
<circle cx="275.6" cy="340.5" r="2.8" fill="#fff" stroke="#f5bd78" stroke-width="0.7"/>
<circle cx="282.2" cy="339.3" r="2.8" fill="#fff" stroke="#f5bd78" stroke-width="0.7"/>
<circle cx="288.7" cy="338.4" r="2.8" fill="#fff" stroke="#f5bd78" stroke-width="0.7"/>
<circle cx="295.2" cy="337.5" r="2.8" fill="#fff" stroke="#f5bd78" stroke-width="0.7"/>
<circle cx="301.7" cy="336.5" r="2.8" fill="#fff" stroke="#f5bd78" stroke-width="0.7"/>
<circle cx="308.2" cy="335.5" r="2.8" fill="#fff" stroke="#f5bd78" stroke-width="0.7"/>
<circle cx="314.7" cy="334.7" r="2.8" fill="#fff" stroke="#f5bd78" stroke-width="0.7"/>
<circle cx="321.2" cy="334.2" r="2.8" fill="#fff" stroke="#f5bd78" stroke-width="0.7"/>
<circle cx="327.7" cy="333.4" r="2.8" fill="#fff" stroke="#f5bd78" stroke-width="0.7"/>
<circle cx="334.2" cy="332.4" r="2.8" fill="#fff" stroke="#f5bd78" stroke-width="0.7"/>
<circle cx="340.7" cy="331.5" r="2.8" fill="#fff" stroke="#f5bd78" stroke-width="0.7"/>
<circle cx="347.2" cy="330.4" r="2.8" fill="#fff" stroke="#f5bd78" stroke-width="0.7"/>
<circle cx="353.8" cy="329.3" r="2.8" fill="#fff" stroke="#f5bd78" stroke-width="0.7"/>
<circle cx="360.3" cy="328.0" r="2.8" fill="#fff" stroke="#f5bd78" stroke-width="0.7"/>
<circle cx="366.8" cy="326.7" r="2.8" fill="#fff" stroke="#f5bd78" stroke-width="0.7"/>
<circle cx="373.3" cy="325.3" r="2.8" fill="#fff" stroke="#f5bd78" stroke-width="0.7"/>
<circle cx="379.8" cy="323.0" r="2.8" fill="#fff" stroke="#f5bd78" stroke-width="0.7"/>
<circle cx="386.3" cy="321.0" r="2.8" fill="#fff" stroke="#f5bd78" stroke-width="0.7"/>
<circle cx="392.8" cy="318.7" r="2.8" fill="#fff" stroke="#f5bd78" stroke-width="0.7"/>
<circle cx="399.3" cy="317.0" r="2.8" fill="#fff" stroke="#f5bd78" stroke-width="0.7"/>
<circle cx="405.8" cy="315.2" r="2.8" fill="#fff" stroke="#f5bd78" stroke-width="0.7"/>
<circle cx="412.3" cy="313.4" r="2.8" fill="#fff" stroke="#f5bd78" stroke-width="0.7"/>
<circle cx="418.8" cy="311.5" r="2.8" fill="#fff" stroke="#f5bd78" stroke-width="0.7"/>
<circle cx="425.3" cy="310.0" r="2.8" fill="#fff" stroke="#f5bd78" stroke-width="0.7"/>
<circle cx="431.9" cy="308.3" r="2.8" fill="#fff" stroke="#f5bd78" stroke-width="0.7"/>
<circle cx="438.4" cy="304.3" r="2.8" fill="#fff" stroke="#f5bd78" stroke-width="0.7"/>
<circle cx="444.9" cy="297.3" r="2.8" fill="#fff" stroke="#f5bd78" stroke-width="0.7"/>
<circle cx="451.4" cy="292.5" r="2.8" fill="#fff" stroke="#f5bd78" stroke-width="0.7"/>
<circle cx="457.9" cy="288.2" r="2.8" fill="#fff" stroke="#f5bd78" stroke-width="0.7"/>
<circle cx="464.4" cy="283.9" r="2.8" fill="#fff" stroke="#f5bd78" stroke-width="0.7"/>
<circle cx="470.9" cy="278.1" r="2.8" fill="#fff" stroke="#f5bd78" stroke-width="0.7"/>
<circle cx="477.4" cy="271.0" r="2.8" fill="#fff" stroke="#f5bd78" stroke-width="0.7"/>
<circle cx="483.9" cy="262.3" r="2.8" fill="#fff" stroke="#f5bd78" stroke-width="0.7"/>
<circle cx="490.4" cy="254.6" r="2.8" fill="#fff" stroke="#f5bd78" stroke-width="0.7"/>
<circle cx="496.9" cy="245.6" r="2.8" fill="#fff" stroke="#f5bd78" stroke-width="0.7"/>
<circle cx="503.4" cy="236.7" r="2.8" fill="#fff" stroke="#f5bd78" stroke-width="0.7"/>
<circle cx="509.9" cy="137.5" r="2.8" fill="#fff" stroke="#f5bd78" stroke-width="0.7"/>
<circle cx="154.0" cy="364.3" r="8.2" fill="#ff1f1f" fill-opacity="0.9"/>
<circle cx="238.4" cy="306.6" r="8.2" fill="#ff1f1f" fill-opacity="0.9"/>
<circle cx="239.3" cy="342.5" r="8.2" fill="#ff1f1f" fill-opacity="0.9"/>
<circle cx="336.5" cy="263.4" r="8.2" fill="#ff1f1f" fill-opacity="0.9"/>
<circle cx="339.0" cy="312.6" r="8.2" fill="#ff1f1f" fill-opacity="0.9"/>
<circle cx="417.8" cy="265.4" r="8.2" fill="#ff1f1f" fill-opacity="0.9"/>
<circle cx="422.8" cy="313.2" r="8.2" fill="#ff1f1f" fill-opacity="0.9"/>
<circle cx="504.4" cy="139.3" r="8.2" fill="#ff1f1f" fill-opacity="0.9"/>
<circle cx="500.9" cy="235.8" r="8.2" fill="#ff1f1f" fill-opacity="0.9"/>
</g>
<path d="M75.50 381.60V4.70H543.90V381.60" fill="none" stroke="#000" stroke-width="1.7" stroke-linejoin="miter"/>
<path d="M74.65 381.45H544.75" fill="none" stroke="#000" stroke-width="1.45"/>
<path d="M80.4 381.3V374.3M158.5 381.3V374.3M236.6 381.3V374.3M314.7 381.3V374.3M392.8 381.3V374.3M470.9 381.3V374.3M75.5 375.0H82.7M75.5 299.6H82.7M75.5 224.2H82.7M75.5 148.8H82.7M75.5 73.4H82.7" stroke="#000" stroke-width="1.3" fill="none"/>
<text x="78.7" y="412.4" font-family="Liberation Serif, Times New Roman, serif" font-size="22.5" text-anchor="middle">0</text>
<text x="154.3" y="412.4" font-family="Liberation Serif, Times New Roman, serif" font-size="22.5" text-anchor="middle">1</text>
<text x="233.0" y="412.4" font-family="Liberation Serif, Times New Roman, serif" font-size="22.5" text-anchor="middle">2</text>
<text x="311.3" y="412.4" font-family="Liberation Serif, Times New Roman, serif" font-size="22.5" text-anchor="middle">3</text>
<text x="387.8" y="412.4" font-family="Liberation Serif, Times New Roman, serif" font-size="22.5" text-anchor="middle">4</text>
<text x="467.0" y="412.4" font-family="Liberation Serif, Times New Roman, serif" font-size="22.5" text-anchor="middle">5</text>
<text x="543.4" y="412.4" font-family="Liberation Serif, Times New Roman, serif" font-size="22.5" text-anchor="middle">6</text>
<text x="67.6" y="382.0" font-family="Liberation Serif, Times New Roman, serif" font-size="22.4" letter-spacing="-0.55" text-anchor="end">0.00</text>
<text x="67.6" y="306.6" font-family="Liberation Serif, Times New Roman, serif" font-size="22.4" letter-spacing="-0.55" text-anchor="end">0.01</text>
<text x="67.6" y="231.2" font-family="Liberation Serif, Times New Roman, serif" font-size="22.4" letter-spacing="-0.55" text-anchor="end">0.02</text>
<text x="67.6" y="155.8" font-family="Liberation Serif, Times New Roman, serif" font-size="22.4" letter-spacing="-0.55" text-anchor="end">0.03</text>
<text x="67.6" y="80.4" font-family="Liberation Serif, Times New Roman, serif" font-size="22.4" letter-spacing="-0.55" text-anchor="end">0.04</text>
<text x="319.3" y="439.4" font-family="Liberation Serif, Times New Roman, serif" font-size="21.6" font-style="italic" text-anchor="middle">Stage</text>
<text x="312.6" y="247" font-family="Liberation Serif, Times New Roman, serif" font-size="22" font-style="italic">e<tspan font-size="15" dx="-0.8" dy="6.2">yy</tspan></text>
<text x="276.4" y="312" font-family="Liberation Serif, Times New Roman, serif" font-size="22" font-style="italic">e<tspan font-size="15" dx="-0.8" dy="6.3">xx</tspan></text>
<text x="340.7" y="359.5" font-family="Liberation Serif, Times New Roman, serif" font-size="22" font-style="italic">e<tspan font-size="15" dx="-0.5" dy="6.0">xy</tspan></text>
<rect x="124.5" y="110.0" width="236.3" height="109.0" fill="#fff" stroke="#6a6a6a" stroke-width="1.1"/>
<line x1="127.3" y1="125.0" x2="175" y2="125.0" stroke="#ff8c8c" stroke-width="1.5"/>
<rect x="149.1" y="122.5" width="5" height="5" fill="#ff0000"/>
<path d="M127.3 151.4H145.6M157.0 151.4H175" stroke="#6e6e6e" stroke-width="1.3"/>
<rect x="148.0" y="148.1" width="6.6" height="6.6" rx="0.8" fill="#fff" stroke="#555" stroke-width="1.2"/>
<path d="M127.3 177.6H147.6M154.8 177.6H175" stroke="#f7c27a" stroke-width="1.3"/>
<circle cx="151.2" cy="177.6" r="3.1" fill="#fff" stroke="#f5b860" stroke-width="0.9"/>
<circle cx="150.4" cy="204.3" r="4.4" fill="#ee3030"/>
<text x="180.2" y="132.3" font-family="Liberation Serif, Times New Roman, serif" font-size="21.5" font-style="italic">camera 6</text>
<text x="180.2" y="158.7" font-family="Liberation Serif, Times New Roman, serif" font-size="21.5" font-style="italic">camera 1</text>
<text x="180.2" y="184.9" font-family="Liberation Serif, Times New Roman, serif" font-size="21.5" font-style="italic">camera 3</text>
<text x="180.2" y="211.6" font-family="Liberation Serif, Times New Roman, serif" font-size="21.5" font-style="italic">early warning points</text>
</svg>
<div class="yl" style="left:3.1px;top:250.7px;font-size:23.0px">Variance (<i>S</i><span class="sup">2</span>)</div>
</div></body></html>
